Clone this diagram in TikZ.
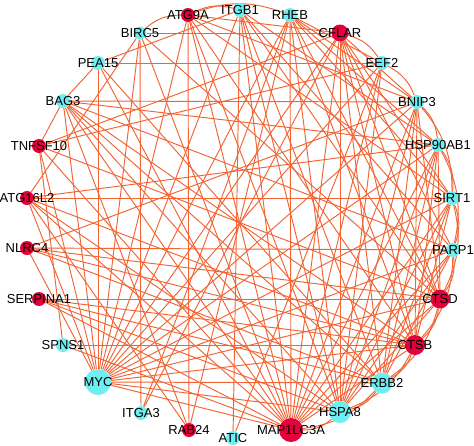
\documentclass[tikz,border=0pt]{standalone}
\usepackage{fontspec}
\setmainfont{Liberation Sans}
\usetikzlibrary{backgrounds}
\definecolor{nodecyan}{RGB}{110,238,240}
\definecolor{nodered}{RGB}{228,0,58}
\definecolor{edgeor}{RGB}{242,100,52}
\tikzset{
  edge/.style={draw=edgeor, line width=0.95pt},
  cy/.style={circle, fill=nodecyan, inner sep=0pt, minimum size=#1},
  rd/.style={circle, fill=nodered, inner sep=0pt, minimum size=#1},
  lab/.style={font=\fontsize{13}{15}\selectfont, text=black, inner sep=0pt},
}
\begin{document}
\begin{tikzpicture}[x=1pt,y=1pt]
\useasboundingbox (0,0) rectangle (474,-445);
% nodes
\node[cy=14pt] (itgb1) at (240,-10) {};
\node[cy=14pt] (rheb) at (290,-15) {};
\node[rd=17pt] (cflar) at (340,-33) {};
\node[cy=14pt] (eef2) at (382,-63) {};
\node[cy=14pt] (bnip3) at (417,-102) {};
\node[cy=14pt] (hsp90) at (438,-145) {};
\node[cy=14pt] (sirt1) at (452,-198) {};
\node[cy=14pt] (parp1) at (453,-250) {};
\node[rd=19pt] (ctsd) at (440,-299) {};
\node[rd=20pt] (ctsb) at (415,-345) {};
\node[cy=21pt] (erbb2) at (382,-383) {};
\node[cy=22pt] (hspa8) at (340,-412) {};
\node[rd=24pt] (lc3a) at (291,-430) {};
\node[cy=14pt] (atic) at (233,-438) {};
\node[rd=14pt] (rab24) at (189,-430) {};
\node[cy=14pt] (itga3) at (141,-413) {};
\node[cy=26pt] (myc) at (98,-382) {};
\node[cy=14pt] (spns1) at (63,-345) {};
\node[rd=14pt] (serpina1) at (39,-299) {};
\node[rd=14pt] (nlrc4) at (27,-248) {};
\node[rd=14pt] (atg16l2) at (27,-198) {};
\node[rd=14pt] (tnfsf10) at (39,-146) {};
\node[cy=14pt] (bag3) at (63,-101) {};
\node[cy=14pt] (pea15) at (98,-63) {};
\node[cy=13pt] (birc5) at (140,-33) {};
\node[rd=14pt] (atg9a) at (188,-15) {};
% edges
\begin{pgfonlayer}{background}
\foreach \a/\b in {
 myc/itgb1, myc/rheb, myc/cflar, myc/eef2, myc/bnip3, myc/hsp90, myc/sirt1, myc/parp1,
 myc/ctsd, myc/ctsb, myc/erbb2, myc/hspa8, myc/lc3a, myc/atg9a, myc/birc5, myc/pea15,
 myc/bag3, myc/tnfsf10, myc/atg16l2, myc/nlrc4,
 lc3a/itgb1, lc3a/rheb, lc3a/cflar, lc3a/eef2, lc3a/bnip3, lc3a/hsp90, lc3a/sirt1, lc3a/parp1,
 lc3a/ctsd, lc3a/ctsb, lc3a/atg9a, lc3a/birc5, lc3a/pea15, lc3a/bag3, lc3a/tnfsf10,
 lc3a/atg16l2, lc3a/serpina1, lc3a/spns1,
 hspa8/itgb1, hspa8/rheb, hspa8/cflar, hspa8/eef2, hspa8/bnip3, hspa8/hsp90, hspa8/sirt1,
 hspa8/parp1, hspa8/ctsd, hspa8/bag3, hspa8/atg16l2, hspa8/atg9a, hspa8/serpina1,
 erbb2/cflar, erbb2/bnip3, erbb2/hsp90, erbb2/sirt1, erbb2/parp1, erbb2/bag3, erbb2/nlrc4,
 erbb2/serpina1, erbb2/itgb1, erbb2/pea15,
 ctsb/sirt1, ctsb/hsp90, ctsb/bnip3, ctsb/cflar, ctsb/spns1, ctsb/serpina1, ctsb/nlrc4,
 ctsb/atg16l2, ctsb/bag3, ctsb/rheb, ctsb/atg9a,
 ctsd/hsp90, ctsd/bnip3, ctsd/serpina1, ctsd/nlrc4, ctsd/tnfsf10, ctsd/birc5, ctsd/cflar,
 ctsd/rheb, ctsd/itgb1,
 cflar/birc5, cflar/tnfsf10, cflar/atg9a, cflar/bnip3, cflar/sirt1, cflar/parp1, cflar/itga3,
 eef2/pea15, eef2/tnfsf10, eef2/rheb,
 bnip3/bag3, bnip3/rheb, bnip3/atg9a, bnip3/nlrc4,
 hsp90/bag3, hsp90/atg16l2, hsp90/itgb1, hsp90/rheb,
 sirt1/atg9a, sirt1/rheb, sirt1/atg16l2,
 parp1/nlrc4, parp1/itgb1, parp1/bag3,
 birc5/itga3, atg9a/rab24, itgb1/atic, rheb/itga3, rheb/rab24,
 pea15/itgb1, tnfsf10/spns1, atg16l2/birc5, rab24/bag3, atic/eef2, rab24/atg16l2,
 pea15/bag3, bag3/tnfsf10}{\draw[edge] (\a) -- (\b);}
\foreach \a/\b in {
 cflar/eef2, eef2/bnip3, bnip3/hsp90, bnip3/sirt1, hsp90/sirt1, hsp90/parp1, sirt1/parp1,
 sirt1/ctsd, parp1/ctsd, parp1/ctsb, ctsd/ctsb, ctsd/erbb2, ctsb/erbb2, ctsb/hspa8,
 erbb2/hspa8, erbb2/lc3a, hspa8/lc3a, atg9a/itgb1, atg9a/rheb, birc5/atg9a}{\draw[edge] (\a) to[bend left=20] (\b);}
\end{pgfonlayer}
% labels
\node[lab] (litgb1) at (240,-10) {ITGB1};
\node[lab] (lrheb) at (290,-15) {RHEB};
\node[lab] (lcflar) at (340,-33) {CFLAR};
\node[lab] (leef2) at (382,-63) {EEF2};
\node[lab] (lbnip3) at (417,-102) {BNIP3};
\node[lab] (lhsp90) at (438,-145) {HSP90AB1};
\node[lab] (lsirt1) at (452,-198) {SIRT1};
\node[lab] (lparp1) at (453,-250) {PARP1};
\node[lab] (lctsd) at (440,-299) {CTSD};
\node[lab] (lctsb) at (415,-345) {CTSB};
\node[lab] (lerbb2) at (382,-383) {ERBB2};
\node[lab] (lhspa8) at (340,-412) {HSPA8};
\node[lab] (llc3a) at (291,-430) {MAP1LC3A};
\node[lab] (latic) at (233,-438) {ATIC};
\node[lab] (lrab24) at (189,-430) {RAB24};
\node[lab] (litga3) at (141,-413) {ITGA3};
\node[lab] (lmyc) at (98,-382) {MYC};
\node[lab] (lspns1) at (63,-345) {SPNS1};
\node[lab] (lserpina1) at (39,-299) {SERPINA1};
\node[lab] (lnlrc4) at (27,-248) {NLRC4};
\node[lab] (latg16l2) at (27,-198) {ATG16L2};
\node[lab] (ltnfsf10) at (39,-146) {TNFSF10};
\node[lab] (lbag3) at (63,-101) {BAG3};
\node[lab] (lpea15) at (98,-63) {PEA15};
\node[lab] (lbirc5) at (140,-33) {BIRC5};
\node[lab] (latg9a) at (188,-15) {ATG9A};
\end{tikzpicture}
\end{document}
